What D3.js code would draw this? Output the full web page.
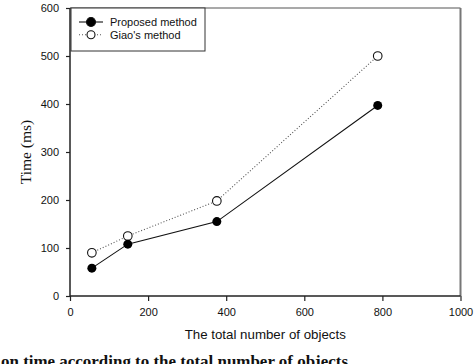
<!DOCTYPE html>
<html>
<head>
<meta charset="utf-8">
<script src="https://cdn.jsdelivr.net/npm/d3@7"></script>
<style>
  body { margin: 0; background: #fff; }
  svg { display: block; }
</style>
</head>
<body>
<div id="chart"></div>
<script>
// values
var objects = [56, 148, 376, 788];
var proposed = [58, 108, 155, 397];
var giao = [90, 125, 198, 500];
var xTicks = [0, 200, 400, 600, 800, 1000];
var yTicks = [0, 100, 200, 300, 400, 500, 600];
var seriesNames = ["Proposed method", "Giao's method"];

var W = 474, H = 364;
var margin = { top: 8, right: 13.5, bottom: 68, left: 70 },
  width = W - margin.left - margin.right,
  height = H - margin.top - margin.bottom;

var svg = d3.select("#chart").append("svg")
  .attr("width", W)
  .attr("height", H);

var g = svg.append("g")
  .attr("transform", "translate(" + margin.left + "," + margin.top + ")");

var xScale = d3.scaleLinear().domain([0, 1000]).range([0, width]),
  yScale = d3.scaleLinear().domain([0, 600]).range([height, 0]);

// frame: top and right in grey
g.append("line").attr("x1", 0).attr("x2", width).attr("y1", 0).attr("y2", 0)
  .attr("stroke", "#555").attr("stroke-width", 1.2);
g.append("line").attr("x1", width).attr("x2", width).attr("y1", 0).attr("y2", height)
  .attr("stroke", "#777").attr("stroke-width", 2);

var xAxis = d3.axisBottom(xScale).tickValues(xTicks).tickSize(5).tickPadding(7).tickFormat(d3.format("d"));
var yAxis = d3.axisLeft(yScale).tickValues(yTicks).tickSize(4).tickPadding(7).tickFormat(d3.format("d"));

var gx = g.append("g").attr("transform", "translate(0," + height + ")").call(xAxis);
var gy = g.append("g").call(yAxis);

[gx, gy].forEach(function (a) {
  a.select(".domain").attr("stroke", "#222").attr("stroke-width", 1.5);
  a.selectAll(".tick line").attr("stroke", "#222").attr("stroke-width", 1.2);
  a.selectAll(".tick text")
    .attr("font-family", "'Liberation Sans', Arial, sans-serif")
    .attr("font-size", "11px")
    .attr("fill", "#111");
});
gx.select(".domain").attr("d", "M0,0H" + width);
gy.select(".domain").attr("d", "M0," + height + "V0");

// lines
var line = d3.line()
  .x(function (d) { return xScale(d[0]); })
  .y(function (d) { return yScale(d[1]); });

var propData = objects.map(function (x, i) { return [x, proposed[i]]; });
var giaoData = objects.map(function (x, i) { return [x, giao[i]]; });

g.append("path").datum(giaoData).attr("d", line)
  .attr("fill", "none").attr("stroke", "#555").attr("stroke-width", 1.1)
  .attr("stroke-dasharray", "1,2");
g.append("path").datum(propData).attr("d", line)
  .attr("fill", "none").attr("stroke", "#111").attr("stroke-width", 1.1);

g.selectAll(".giao").data(giaoData).enter().append("circle")
  .attr("cx", function (d) { return xScale(d[0]); })
  .attr("cy", function (d) { return yScale(d[1]); })
  .attr("r", 4.3).attr("fill", "#fff").attr("stroke", "#111").attr("stroke-width", 1.1);
g.selectAll(".prop").data(propData).enter().append("circle")
  .attr("cx", function (d) { return xScale(d[0]); })
  .attr("cy", function (d) { return yScale(d[1]); })
  .attr("r", 4.5).attr("fill", "#000");

// legend
var legend = g.append("g").attr("transform", "translate(1,0)");
legend.append("rect").attr("x", 0).attr("y", 0).attr("width", 134).attr("height", 43)
  .attr("fill", "#fff").attr("stroke", "#333").attr("stroke-width", 1);
seriesNames.forEach(function (name, i) {
  var yy = 14 + i * 12.7;
  var row = legend.append("g");
  row.append("line").attr("x1", 8).attr("x2", 32).attr("y1", yy).attr("y2", yy)
    .attr("stroke", i == 0 ? "#111" : "#555").attr("stroke-width", 1.1)
    .attr("stroke-dasharray", i == 0 ? null : "1,2");
  row.append("circle").attr("cx", 20).attr("cy", yy).attr("r", i == 0 ? 4.5 : 4)
    .attr("fill", i == 0 ? "#000" : "#fff").attr("stroke", "#111").attr("stroke-width", 1.1);
  row.append("text").attr("x", 39).attr("y", yy + 4)
    .attr("font-family", "'Liberation Sans', Arial, sans-serif")
    .attr("font-size", "11px").attr("fill", "#111").text(name);
});

// axis titles
svg.append("text")
  .attr("transform", "translate(31," + (margin.top + height / 2) + ") rotate(-90)")
  .attr("text-anchor", "middle")
  .attr("font-family", "'Liberation Serif', 'Times New Roman', serif")
  .attr("font-size", "15.5px").attr("fill", "#111")
  .text("Time (ms)");

svg.append("text")
  .attr("x", margin.left + width / 2).attr("y", 339)
  .attr("text-anchor", "middle")
  .attr("font-family", "'Liberation Sans', Arial, sans-serif")
  .attr("font-size", "13.3px").attr("fill", "#111")
  .text("The total number of objects");

// clipped caption at the bottom of the crop
svg.append("text")
  .attr("x", 1).attr("y", 367)
  .attr("font-family", "'Liberation Serif', 'Times New Roman', serif")
  .attr("font-size", "17px").attr("font-weight", "bold").attr("fill", "#111")
  .attr("textLength", 347).attr("lengthAdjust", "spacingAndGlyphs")
  .text("on time according to the total number of objects");
</script>
</body>
</html>
